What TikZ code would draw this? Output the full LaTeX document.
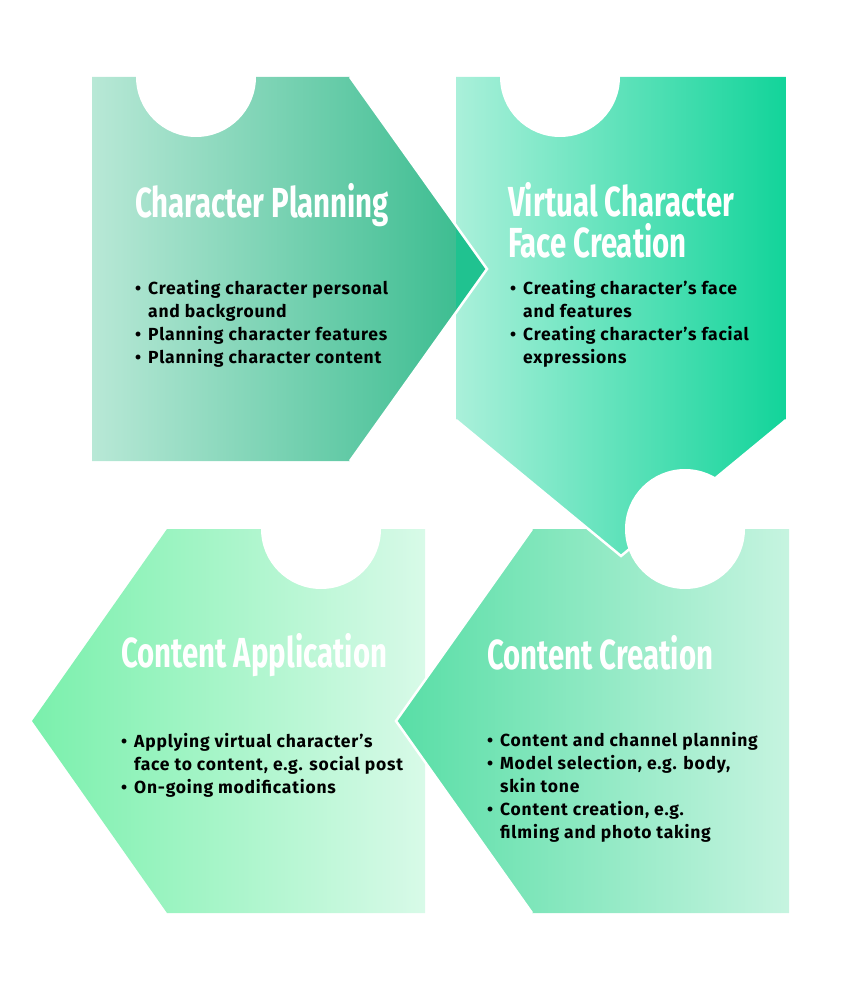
\documentclass[tikz,border=0pt]{standalone}
\usepackage{fontspec}
\setmainfont{Fira Sans}
\newfontfamily\titlefont[FakeStretch=0.70]{Fira Sans}
\newfontfamily\bodyfont[LetterSpace=4.5]{Fira Sans}
\definecolor{aL}{HTML}{B8E8D6}\definecolor{aR}{HTML}{34BA8C}
\definecolor{aT}{HTML}{20C290}
\definecolor{bL}{HTML}{AAF0DA}\definecolor{bR}{HTML}{12D49A}
\definecolor{cL}{HTML}{58DEA6}\definecolor{cR}{HTML}{C6F4E0}
\definecolor{dL}{HTML}{7AF0AC}\definecolor{dR}{HTML}{D8FAE8}
\newcommand{\bul}{\makebox[13pt][l]{•}}
\newcommand{\ind}{\makebox[13pt]{}}
\begin{document}
\begin{tikzpicture}[x=1pt,y=-1pt,
  edge/.style={draw=white,line width=2.5pt,line join=miter},
  notch/.style={fill=white,draw=none},
  ttl/.style={font=\titlefont\bfseries\fontsize{42}{42}\selectfont,text=white,inner sep=0,anchor=base west},
  body/.style={font=\bodyfont\bfseries\fontsize{17.5}{23}\selectfont,text=black,inner sep=0,anchor=north west,align=left}]
\useasboundingbox (0,0) rectangle (855,992);
% box 4: Content Application
\path[left color=dL,right color=dR] (167,529) -- (425,529) -- (425,913) -- (167,913) -- (32,721) -- cycle;
% box 3: Content Creation
\path[left color=cL,right color=cR] (532,529) -- (789,529) -- (789,913) -- (532,913) -- (396,721) -- cycle;
\draw[edge] (532,529) -- (396,721) -- (532,913);
% box 2: Virtual Character Face Creation
\path[left color=bL,right color=bR] (456,77) -- (786,77) -- (786,420) -- (621,556) -- (456,420) -- cycle;
\draw[edge] (456,420) -- (621,556) -- (786,420);
% box 1: Character Planning
\path[left color=aL,right color=aR] (92,77) -- (350,77) -- (487,269) -- (350,461) -- (92,461) -- cycle;
\fill[aT] (456,225.6) -- (487,269) -- (456,312.4) -- cycle;
\draw[edge] (350,77) -- (487,269) -- (350,461);
% notches
\fill[notch] (196,77) circle (60);
\fill[notch] (560,77) circle (60);
\fill[notch] (321,529) circle (60);
\fill[notch] (685,529) circle (60);
% titles
\node[ttl] (t1) at (135,218) {Character Planning};
\node[ttl] (t2a) at (508,217) {Virtual Character};
\node[ttl] (t2b) at (508,257) {Face Creation};
\node[ttl] (t4) at (121,667) {Content Application};
\node[ttl] (t3) at (487,669) {Content Creation};
% bodies
\node[body] (b1) at (135,280) {\bul Creating character personal\\\ind and background\\\bul Planning character features\\\bul Planning character content};
\node[body] (b2) at (510,280) {\bul Creating character’s face\\\ind and features\\\bul Creating character’s facial\\\ind expressions};
\node[body] (b4) at (121,733) {\bul Applying virtual character’s\\\ind face to content, e.g. social post\\\bul On-going modifications};
\node[body] (b3) at (487,732) {\bul Content and channel planning\\\bul Model selection, e.g. body,\\\ind skin tone\\\bul Content creation, e.g.\\\ind filming and photo taking};
\end{tikzpicture}
\end{document}
